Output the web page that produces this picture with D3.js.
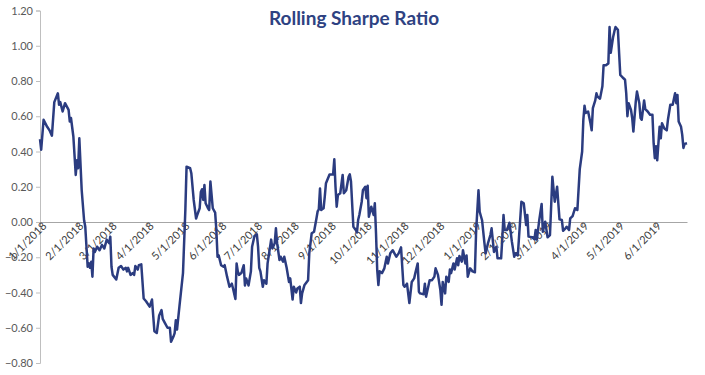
<!DOCTYPE html>
<html>
<head>
<meta charset="utf-8">
<script src="https://cdn.jsdelivr.net/npm/d3@7"></script>
<style>
  body { margin: 0; background: #fff; }
  svg { display: block; }
</style>
</head>
<body>
<script>
const width = 705;
const height = 375;

const title = "Rolling Sharpe Ratio";

// dates of the rolling window end
const dates = [
  "2018-01-01","2018-01-02","2018-01-04","2018-01-07","2018-01-09","2018-01-11","2018-01-13","2018-01-16","2018-01-17","2018-01-18",
  "2018-01-20","2018-01-22","2018-01-25","2018-01-26","2018-01-27","2018-01-29","2018-01-31","2018-02-01","2018-02-02","2018-02-03",
  "2018-02-05","2018-02-07","2018-02-08","2018-02-10","2018-02-11","2018-02-12","2018-02-13","2018-02-14","2018-02-15","2018-02-16",
  "2018-02-18","2018-02-20","2018-02-22","2018-02-24","2018-02-26","2018-02-28","2018-03-01","2018-03-02","2018-03-03","2018-03-06",
  "2018-03-08","2018-03-10","2018-03-12","2018-03-14","2018-03-15","2018-03-16","2018-03-18","2018-03-20","2018-03-21","2018-03-22",
  "2018-03-24","2018-03-25","2018-03-27","2018-03-29","2018-03-31","2018-04-03","2018-04-05","2018-04-07","2018-04-09","2018-04-11",
  "2018-04-13","2018-04-14","2018-04-16","2018-04-18","2018-04-20","2018-04-21","2018-04-23","2018-04-24","2018-04-25","2018-04-26",
  "2018-04-28","2018-05-01","2018-05-03","2018-05-04","2018-05-07","2018-05-08","2018-05-10","2018-05-12","2018-05-13","2018-05-15",
  "2018-05-16","2018-05-17","2018-05-18","2018-05-19","2018-05-20","2018-05-22","2018-05-23","2018-05-24","2018-05-26","2018-05-28",
  "2018-05-29","2018-05-30","2018-05-31","2018-06-02","2018-06-04","2018-06-05","2018-06-07","2018-06-09","2018-06-11","2018-06-12",
  "2018-06-14","2018-06-15","2018-06-16","2018-06-17","2018-06-19","2018-06-21","2018-06-22","2018-06-23","2018-06-25","2018-06-27",
  "2018-06-28","2018-06-30","2018-07-02","2018-07-03","2018-07-04","2018-07-05","2018-07-07","2018-07-08","2018-07-10","2018-07-11",
  "2018-07-14","2018-07-15","2018-07-17","2018-07-18","2018-07-19","2018-07-21","2018-07-22","2018-07-24","2018-07-25","2018-07-27",
  "2018-07-29","2018-07-30","2018-08-01","2018-08-02","2018-08-04","2018-08-05","2018-08-07","2018-08-08","2018-08-09","2018-08-11",
  "2018-08-14","2018-08-15","2018-08-17","2018-08-19","2018-08-21","2018-08-22","2018-08-23","2018-08-24","2018-08-25","2018-08-27",
  "2018-08-28","2018-08-29","2018-09-01","2018-09-04","2018-09-05","2018-09-06","2018-09-07","2018-09-08","2018-09-10","2018-09-12",
  "2018-09-13","2018-09-15","2018-09-17","2018-09-18","2018-09-19","2018-09-21","2018-09-23","2018-09-24","2018-09-25","2018-09-26",
  "2018-09-28","2018-09-29","2018-10-01","2018-10-02","2018-10-03","2018-10-04","2018-10-06","2018-10-08","2018-10-09","2018-10-10",
  "2018-10-11","2018-10-12","2018-10-13","2018-10-15","2018-10-17","2018-10-19","2018-10-20","2018-10-22","2018-10-24","2018-10-27",
  "2018-10-29","2018-10-31","2018-11-02","2018-11-03","2018-11-05","2018-11-06","2018-11-07","2018-11-09","2018-11-11","2018-11-12",
  "2018-11-14","2018-11-15","2018-11-16","2018-11-19","2018-11-20","2018-11-21","2018-11-24","2018-11-26","2018-11-28","2018-11-29",
  "2018-12-01","2018-12-03","2018-12-04","2018-12-05","2018-12-07","2018-12-08","2018-12-10","2018-12-11","2018-12-12","2018-12-14",
  "2018-12-15","2018-12-17","2018-12-18","2018-12-19","2018-12-21","2018-12-22","2018-12-24","2018-12-25","2018-12-26","2018-12-28",
  "2018-12-30","2019-01-01","2019-01-02","2019-01-04","2019-01-05","2019-01-07","2019-01-09","2019-01-10","2019-01-12","2019-01-14",
  "2019-01-15","2019-01-17","2019-01-19","2019-01-20","2019-01-23","2019-01-24","2019-01-25","2019-01-26","2019-01-28","2019-01-30",
  "2019-02-01","2019-02-03","2019-02-04","2019-02-06","2019-02-09","2019-02-11","2019-02-13","2019-02-14","2019-02-15","2019-02-18",
  "2019-02-20","2019-02-21","2019-02-22","2019-02-24","2019-02-26","2019-02-27","2019-03-01","2019-03-03","2019-03-05","2019-03-07",
  "2019-03-09","2019-03-11","2019-03-13","2019-03-15","2019-03-16","2019-03-18","2019-03-19","2019-03-21","2019-03-22","2019-03-24",
  "2019-03-26","2019-03-28","2019-03-30","2019-04-01","2019-04-02","2019-04-03","2019-04-04","2019-04-06","2019-04-08","2019-04-09",
  "2019-04-10","2019-04-12","2019-04-13","2019-04-14","2019-04-16","2019-04-18","2019-04-19","2019-04-21","2019-04-23","2019-04-24",
  "2019-04-25","2019-04-27","2019-04-28","2019-04-29","2019-05-01","2019-05-03","2019-05-05","2019-05-07","2019-05-08","2019-05-09",
  "2019-05-10","2019-05-12","2019-05-13","2019-05-14","2019-05-16","2019-05-17","2019-05-19","2019-05-20","2019-05-21","2019-05-23",
  "2019-05-24","2019-05-26","2019-05-28","2019-05-30","2019-05-31","2019-06-01","2019-06-02","2019-06-03","2019-06-05","2019-06-06",
  "2019-06-07","2019-06-09","2019-06-11","2019-06-12","2019-06-14","2019-06-16","2019-06-18","2019-06-19","2019-06-20","2019-06-21",
  "2019-06-23","2019-06-24","2019-06-25","2019-06-26","2019-06-28"
];

const sharpe = [
  0.47, 0.41, 0.58, 0.54, 0.52, 0.49, 0.68, 0.73, 0.665, 0.68,
  0.627, 0.674, 0.636, 0.57, 0.59, 0.485, 0.267, 0.35, 0.305, 0.475,
  0.18, 0.01, -0.027, -0.254, -0.235, -0.26, -0.225, -0.31, -0.15, -0.17,
  -0.14, -0.16, -0.13, -0.15, -0.10, -0.12, -0.083, -0.254, -0.30, -0.326,
  -0.26, -0.25, -0.27, -0.26, -0.28, -0.26, -0.30, -0.29, -0.30, -0.25,
  -0.27, -0.245, -0.24, -0.434, -0.45, -0.48, -0.44, -0.62, -0.63, -0.53,
  -0.50, -0.55, -0.575, -0.60, -0.60, -0.68, -0.65, -0.63, -0.557, -0.61,
  -0.48, -0.29, 0.07, 0.314, 0.305, 0.277, 0.125, 0.02, 0.04, 0.078,
  0.17, 0.186, 0.125, 0.21, 0.106, 0.078, 0.068, 0.23, 0.078, 0.053,
  -0.045, -0.197, -0.19, -0.245, -0.254, -0.245, -0.31, -0.367, -0.35, -0.377,
  -0.437, -0.235, -0.28, -0.30, -0.29, -0.245, -0.36, -0.32, -0.36, -0.28,
  -0.14, -0.08, -0.07, -0.14, -0.26, -0.28, -0.367, -0.33, -0.35, -0.235,
  -0.10, -0.15, -0.12, -0.036, -0.12, -0.216, -0.197, -0.225, -0.197, -0.26,
  -0.34, -0.32, -0.44, -0.367, -0.40, -0.377, -0.367, -0.46, -0.405, -0.357,
  -0.33, -0.178, -0.064, -0.055, 0.02, 0.06, 0.072, 0.19, 0.068, 0.078,
  0.144, 0.22, 0.27, 0.27, 0.356, 0.20, 0.087, 0.153, 0.163, 0.267,
  0.163, 0.18, 0.257, 0.27, 0.23, -0.027, -0.045, -0.06, 0.011, 0.04,
  0.115, 0.18, 0.20, 0.135, 0.205, 0.03, 0.087, 0.04, 0.106, -0.064,
  -0.27, -0.358, -0.28, -0.29, -0.263, -0.197, -0.235, -0.178, -0.16, -0.197,
  -0.178, -0.144, -0.358, -0.367, -0.35, -0.405, -0.46, -0.34, -0.32, -0.29,
  -0.235, -0.396, -0.405, -0.41, -0.35, -0.424, -0.33, -0.33, -0.31, -0.263,
  -0.30, -0.386, -0.47, -0.34, -0.405, -0.31, -0.34, -0.27, -0.29, -0.235,
  -0.27, -0.206, -0.245, -0.193, -0.225, -0.16, -0.235, -0.19, -0.31, -0.263,
  -0.28, -0.285, -0.055, 0.18, 0.058, 0.01, -0.12, -0.178, -0.12, -0.074,
  -0.036, -0.17, -0.14, -0.206, -0.206, -0.093, 0.04, -0.045, -0.045, -0.004,
  -0.11, -0.197, -0.178, -0.19, 0.115, 0.106, -0.017, 0.04, -0.083, -0.087,
  -0.098, -0.045, -0.10, 0.011, 0.102, -0.055, 0.002, -0.087, -0.074, 0.257,
  0.115, 0.20, 0.015, 0.011, -0.05, -0.036, -0.027, -0.045, 0.02, 0.034,
  0.078, 0.068, 0.30, 0.40, 0.58, 0.66, 0.618, 0.627, 0.56, 0.52,
  0.646, 0.69, 0.73, 0.71, 0.70, 0.77, 0.89, 0.89, 0.90, 1.106,
  0.96, 1.05, 1.08, 1.106, 1.09, 0.835, 0.82, 0.807, 0.73, 0.60,
  0.674, 0.636, 0.59, 0.513, 0.683, 0.74, 0.674, 0.59, 0.58, 0.69,
  0.64, 0.627, 0.608, 0.608, 0.447, 0.362, 0.43, 0.35, 0.54, 0.475,
  0.56, 0.53, 0.52, 0.58, 0.665, 0.665, 0.73, 0.674, 0.72, 0.57,
  0.54, 0.494, 0.42, 0.443, 0.447
];

const yTicks = [-0.8, -0.6, -0.4, -0.2, 0, 0.2, 0.4, 0.6, 0.8, 1.0, 1.2];
const xTickMonths = ["2018-01-01","2018-02-01","2018-03-01","2018-04-01","2018-05-01","2018-06-01",
  "2018-07-01","2018-08-01","2018-09-01","2018-10-01","2018-11-01","2018-12-01",
  "2019-01-01","2019-02-01","2019-03-01","2019-04-01","2019-05-01","2019-06-01"];

const parse = d3.timeParse("%Y-%m-%d");
const data = dates.map((d, i) => ({ date: parse(d), value: sharpe[i] }));

const svg = d3.select("body")
  .append("svg")
  .attr("width", width)
  .attr("height", height)
  .style("font-family", "Lato, 'Liberation Sans', sans-serif");

const x = d3.scaleTime()
  .domain(d3.extent(data, d => d.date))
  .range([40, 687]);

const y = d3.scaleLinear()
  .domain([-0.8, 1.2])
  .range([363, 10.5]);

// title
svg.append("text")
  .attr("x", 354)
  .attr("y", 25)
  .attr("text-anchor", "middle")
  .attr("font-size", 19)
  .attr("font-weight", "bold")
  .attr("fill", "#2E4282")
  .text(title);

// y axis
const yAxis = svg.append("g")
  .attr("transform", "translate(40,0)")
  .call(d3.axisLeft(y).tickValues(yTicks).tickFormat(d3.format(".2f")).tickSize(4).tickPadding(3));
yAxis.select(".domain").attr("stroke", "#BFBFBF");
yAxis.selectAll(".tick line").attr("stroke", "#BFBFBF");
yAxis.selectAll(".tick text")
  .attr("fill", "#595959")
  .attr("font-size", 11)
  .attr("font-family", "Lato, 'Liberation Sans', sans-serif");

// x axis sits on zero
const xAxis = svg.append("g")
  .attr("transform", "translate(0," + y(0) + ")")
  .call(d3.axisBottom(x).tickValues(xTickMonths.map(parse)).tickFormat(d3.timeFormat("%-m/%-d/%Y")).tickSize(4).tickSizeOuter(0));
xAxis.select(".domain").attr("stroke", "#A6A6A6");
xAxis.selectAll(".tick line").attr("stroke", "#A6A6A6");
xAxis.selectAll(".tick text")
  .attr("fill", "#404040")
  .attr("font-size", 11)
  .attr("font-family", "Lato, 'Liberation Sans', sans-serif")
  .attr("text-anchor", "end")
  .attr("dy", "0.35em")
  .attr("transform", "translate(4,2) rotate(-45)")
  .attr("y", 0)
  .attr("x", 0);

// the line
const line = d3.line()
  .x(d => x(d.date))
  .y(d => y(d.value));

svg.append("path")
  .datum(data)
  .attr("fill", "none")
  .attr("stroke", "#2B3C80")
  .attr("stroke-width", 2.5)
  .attr("stroke-linejoin", "round")
  .attr("d", line);
</script>
</body>
</html>
